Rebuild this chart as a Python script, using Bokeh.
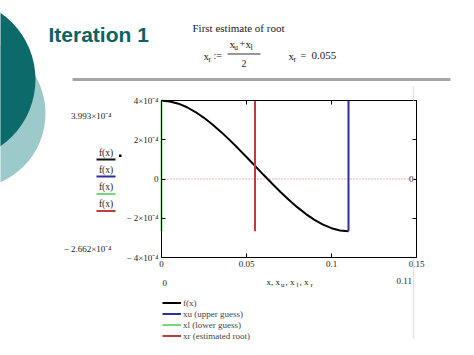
from bokeh.plotting import figure
from bokeh.models import (Range1d, LinearAxis, FixedTicker, Label, BoxAnnotation,
                          Legend, LegendItem, ColumnDataSource)
from bokeh.embed import file_html
from bokeh.resources import INLINE

# ---------------- data ----------------
x_vals = [0.0, 0.005, 0.01, 0.015, 0.02, 0.025, 0.03, 0.035, 0.04, 0.045, 0.05, 0.055,
          0.06, 0.065, 0.07, 0.075, 0.08, 0.085, 0.09, 0.095, 0.1, 0.105, 0.11]
f_vals = [3.993e-4, 3.953e-4, 3.838e-4, 3.656e-4, 3.413e-4, 3.118e-4, 2.778e-4, 2.401e-4,
          1.993e-4, 1.563e-4, 1.118e-4, 0.666e-4, 0.213e-4, -0.232e-4, -0.662e-4, -1.070e-4,
          -1.447e-4, -1.787e-4, -2.082e-4, -2.325e-4, -2.507e-4, -2.622e-4, -2.662e-4]

guess_names = ["xu (upper guess)", "xl (lower guess)", "xr (estimated root)"]
guess_x = [0.11, 0.0, 0.055]
guess_colors = ["#2e2e9e", "#74d874", "#c23a3a"]
f_top = 3.993e-4
f_bottom = -2.662e-4
x_r_value = 0.055

x_ticks = [0.0, 0.05, 0.1, 0.15]
x_tick_labels = ["0", "0.05", "0.1", "0.15"]
y_ticks = [-4e-4, -2e-4, 0.0, 2e-4, 4e-4]
y_tick_labels = ["\u2212 4\u00d710\u207b\u2074", "\u2212 2\u00d710\u207b\u2074", "0",
                 "2\u00d710\u207b\u2074", "4\u00d710\u207b\u2074"]

title_text = "Iteration 1"
subtitle_text = "First estimate of root"
legend_label_main = "f(x)"

# ---------------- layout geometry (page pixels) ----------------
W, H = 474, 355
FL, FR, FT, FB = 161, 416, 100, 257          # plot box edges
xmin, xmax = x_ticks[0], x_ticks[-1]
ymin, ymax = y_ticks[0], y_ticks[-1]
kx = (xmax - xmin) / (FR - FL)
ky = (ymax - ymin) / (FB - FT)
x_range = Range1d(xmin - FL * kx, xmax + (W - FR) * kx)
y_range = Range1d(ymin - (H - FB) * ky, ymax + FT * ky)

p = figure(width=W, height=H, x_range=x_range, y_range=y_range,
           output_backend="svg", toolbar_location=None,
           x_axis_type=None, y_axis_type=None, min_border=0)
p.background_fill_color = "white"
p.border_fill_color = "white"
p.outline_line_color = None

SERIF = "Liberation Serif"
SANS = "Liberation Sans"


def make_axis(ticks, labels, show, loc, bounds):
    ax = LinearAxis(ticker=FixedTicker(ticks=ticks), fixed_location=loc, bounds=bounds)
    ax.major_label_overrides = dict(zip(ticks, labels))
    ax.axis_line_color = "black"
    ax.major_tick_line_color = "black"
    ax.major_tick_in = 4
    ax.major_tick_out = 0
    ax.minor_tick_line_color = None
    ax.major_label_text_font = SERIF
    ax.major_label_text_font_size = "9px"
    ax.major_label_text_color = "#222222" if show else None
    ax.major_label_standoff = 3
    return ax


p.add_layout(make_axis(x_ticks, x_tick_labels, True, ymin, (xmin, xmax)), "below")
p.add_layout(make_axis(y_ticks, y_tick_labels, True, xmin, (ymin, ymax)), "left")
p.add_layout(make_axis(x_ticks, x_tick_labels, False, ymax, (xmin, xmax)), "above")
p.add_layout(make_axis(y_ticks, y_tick_labels, False, xmax, (ymin, ymax)), "right")


def sx(X):
    return X


def sy(Y):
    return H - Y


def box(x0, y0, x1, y1, color, radius=0):
    b = BoxAnnotation(left=sx(x0), right=sx(x1), top=sy(y0), bottom=sy(y1),
                      left_units="screen", right_units="screen",
                      top_units="screen", bottom_units="screen",
                      fill_color=color, fill_alpha=1.0, line_color=None,
                      border_radius=radius)
    p.add_layout(b)
    return b


def lab(text, X, Y, size="9px", font=SERIF, align="left", color="#1a1a1a", style="normal"):
    lb = Label(x=sx(X), y=sy(Y), x_units="screen", y_units="screen", text=text,
               text_font=font, text_font_size=size, text_align=align,
               text_baseline="middle", text_color=color, text_font_style=style)
    p.add_layout(lb)
    return lb


# decorative circles
box(-30 - 75, 113 - 75, -30 + 75, 113 + 75, "#9ccaca", 75)
box(-46 - 81, 79 - 81, -46 + 81, 79 + 81, "#0d6a6a", 81)

# rules
box(72, 77.5, 450, 80.5, "#a6a6a6")
box(412.3, 86, 413.7, 100, "#e2e2e2")
box(412.3, 258, 413.7, 338, "#e2e2e2")

# title and formula
lab(title_text, 48, 34, size="21px", font=SANS, color="#0b6262", style="bold")
lab(subtitle_text, 192, 27, size="11px")
lab("x", 203, 55, size="11px")
lab("r", 208, 58.5, size="8px")
lab(":=", 213, 55, size="10px")
lab("x", 229, 43, size="11px")
lab("u", 233.5, 46.5, size="8px")
lab("+", 239, 43, size="10px")
lab("x", 245, 43, size="11px")
lab("l", 250, 46.5, size="8px")
box(227, 53, 260, 54, "#333333")
lab("2", 243.5, 63, size="10px", align="center")
lab("x", 288, 55, size="11px")
lab("r", 293, 58.5, size="8px")
lab("=", 300, 55, size="10px")
lab(f"{x_r_value:.3f}", 311, 55, size="11px")

# left-side labels
lab("3.993\u00d710\u207b\u2074", 111, 115, align="right")
lab("\u2212 2.662\u00d710\u207b\u2074", 111, 248, align="right")
fx_rows = [152, 169, 186.5, 203.5]
under_colors = ["#111111"] + guess_colors
for yy, cc in zip(fx_rows, under_colors):
    lab(legend_label_main, 105.5, yy, size="9.5px", align="center")
    box(96, yy + 6, 115, yy + 8, cc)
box(118.5, 154, 121, 156.5, "#000000")

# bottom labels
lab("0", 162, 282)
lab("0.11", 411.5, 280, align="right")
lab("x, x", 266, 281)
lab("u", 280.5, 284, size="7px")
lab(", x", 285, 281)
lab("l", 296, 284, size="7px")
lab(", x", 299, 281)
lab("r", 310, 284, size="7px")

# zero line and its label
p.line([xmin, xmax], [0, 0], line_color="#d06a6a", line_dash="1 2", line_width=1)
p.add_layout(Label(x=xmax, y=0, x_offset=-3, text="0", text_font=SERIF,
                   text_font_size="9px", text_align="right", text_baseline="middle",
                   text_color="#222222", background_fill_color="white"))

# data glyphs
curve = p.line(x_vals, f_vals, line_color="black", line_width=2)
src = ColumnDataSource(dict(x=guess_x, y0=[f_bottom] * len(guess_x),
                            y1=[f_top] * len(guess_x), color=guess_colors))
segs = p.segment(x0="x", y0="y0", x1="x", y1="y1", line_color="color", line_width=2,
                 source=src)

items = [LegendItem(label=legend_label_main, renderers=[curve])]
for i, name in enumerate(guess_names):
    items.append(LegendItem(label=name, renderers=[segs], index=i))
legend = Legend(items=items, location=(FL + 1, H - 341), padding=0, spacing=0, margin=0,
                glyph_width=19, glyph_height=11, label_height=11, label_standoff=2,
                label_text_font=SERIF, label_text_font_size="9px",
                border_line_color=None, background_fill_alpha=0)
p.add_layout(legend)

open("out.html", "w").write(file_html(p, INLINE))
